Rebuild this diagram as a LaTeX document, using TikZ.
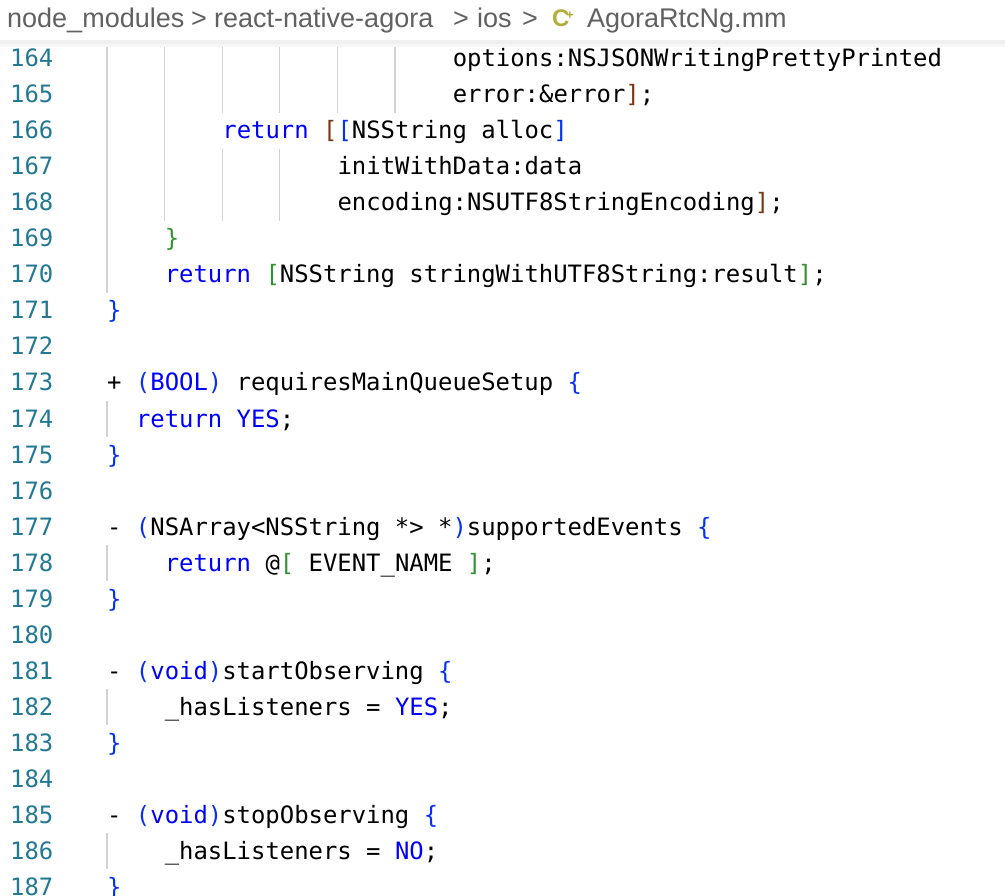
\documentclass[tikz,border=0pt]{standalone}
\usepackage{fontspec}
\setmonofont{DejaVu Sans Mono}
\setsansfont{Liberation Sans}
\definecolor{kw}{HTML}{0000FF}
\definecolor{bl}{HTML}{0431FA}
\definecolor{gr}{HTML}{319331}
\definecolor{br}{HTML}{7B3814}
\definecolor{ln}{HTML}{237893}
\definecolor{guide}{HTML}{D3D3D3}
\definecolor{crumb}{HTML}{616161}
\definecolor{icon}{HTML}{B5AE3A}
\newcommand{\K}[1]{\textcolor{kw}{#1}}
\newcommand{\B}[1]{\textcolor{bl}{#1}}
\newcommand{\G}[1]{\textcolor{gr}{#1}}
\newcommand{\R}[1]{\textcolor{br}{#1}}
\begin{document}
\begin{tikzpicture}[x=1pt,y=-1pt,
  code/.style={anchor=base west,inner sep=0pt,font=\ttfamily\fontsize{23.9}{36}\selectfont},
  lnum/.style={code,text=ln},
  crumbtxt/.style={anchor=base west,inner sep=0pt,font=\sffamily\fontsize{27}{30}\selectfont,text=crumb},
  guideline/.style={draw=guide,line width=1.3pt}]
\useasboundingbox (0,0) rectangle (1005,896);
\fill[white] (0,0) rectangle (1005,896);
% header
\fill[black!6] (0,40) rectangle (1005,44);
\fill[black!3] (0,44) rectangle (1005,47);
\fill[white] (0,0) rectangle (1005,40);
\node[crumbtxt] (c1) at (7,28) {node\_modules};
\node[crumbtxt] (s1) at (191,28) {>};
\node[crumbtxt] (c2) at (214,28) {react-native-agora};
\node[crumbtxt] (s2) at (453,28) {>};
\node[crumbtxt] (c3) at (477,28) {ios};
\node[crumbtxt] (s3) at (522,28) {>};
\node[anchor=base west,inner sep=0pt,font=\sffamily\bfseries\fontsize{24}{26}\selectfont,text=icon] (ic) at (552,27) {C};
\node[anchor=base west,inner sep=0pt,font=\sffamily\bfseries\fontsize{13}{14}\selectfont,text=icon] (ip) at (566,20) {+};
\node[crumbtxt] (c4) at (587,28) {AgoraRtcNg.mm};
% guides
\draw[guideline] (107,47) -- (107,293);
\draw[guideline] (164.6,47) -- (164.6,221);
\draw[guideline] (222.2,47) -- (222.2,113) (222.2,149) -- (222.2,221);
\draw[guideline] (279.8,47) -- (279.8,113) (279.8,149) -- (279.8,221);
\draw[guideline] (337.4,47) -- (337.4,113);
\draw[guideline] (395,47) -- (395,113);
\draw[guideline] (107,401) -- (107,437);
\draw[guideline] (107,545) -- (107,581);
\draw[guideline] (107,689) -- (107,725);
\draw[guideline] (107,833) -- (107,869);
% line numbers
\foreach \n [count=\i from 0] in {164,...,187}
  \node[lnum] (n\n) at (10,{67+36*\i}) {\n};
% code (col x = 107 + 14.4*col)
\node[code] (l164) at (452.6,67) {options:NSJSONWritingPrettyPrinted};
\node[code] (l165) at (452.6,103) {error:\&error\R{]};};
\node[code] (l166) at (222.2,139) {\K{return} \R{[}\B{[}NSString alloc\B{]}};
\node[code] (l167) at (337.4,175) {initWithData:data};
\node[code] (l168) at (337.4,211) {encoding:NSUTF8StringEncoding\R{]};};
\node[code] (l169) at (164.6,247) {\G{\}}};
\node[code] (l170) at (164.6,283) {\K{return} \G{[}NSString stringWithUTF8String:result\G{]};};
\node[code] (l171) at (107,319) {\B{\}}};
\node[code] (l173) at (107,391) {+ \B{(}\K{BOOL}\B{)} requiresMainQueueSetup \B{\{}};
\node[code] (l174) at (135.8,427) {\K{return} \K{YES};};
\node[code] (l175) at (107,463) {\B{\}}};
\node[code] (l177) at (107,535) {- \B{(}NSArray<NSString *> *\B{)}supportedEvents \B{\{}};
\node[code] (l178) at (164.6,571) {\K{return} @\G{[} EVENT\_NAME \G{]};};
\node[code] (l179) at (107,607) {\B{\}}};
\node[code] (l181) at (107,679) {- \B{(}\K{void}\B{)}startObserving \B{\{}};
\node[code] (l182) at (164.6,715) {\_hasListeners = \K{YES};};
\node[code] (l183) at (107,751) {\B{\}}};
\node[code] (l185) at (107,823) {- \B{(}\K{void}\B{)}stopObserving \B{\{}};
\node[code] (l186) at (164.6,859) {\_hasListeners = \K{NO};};
\node[code] (l187) at (107,895) {\B{\}}};
\end{tikzpicture}
\end{document}
